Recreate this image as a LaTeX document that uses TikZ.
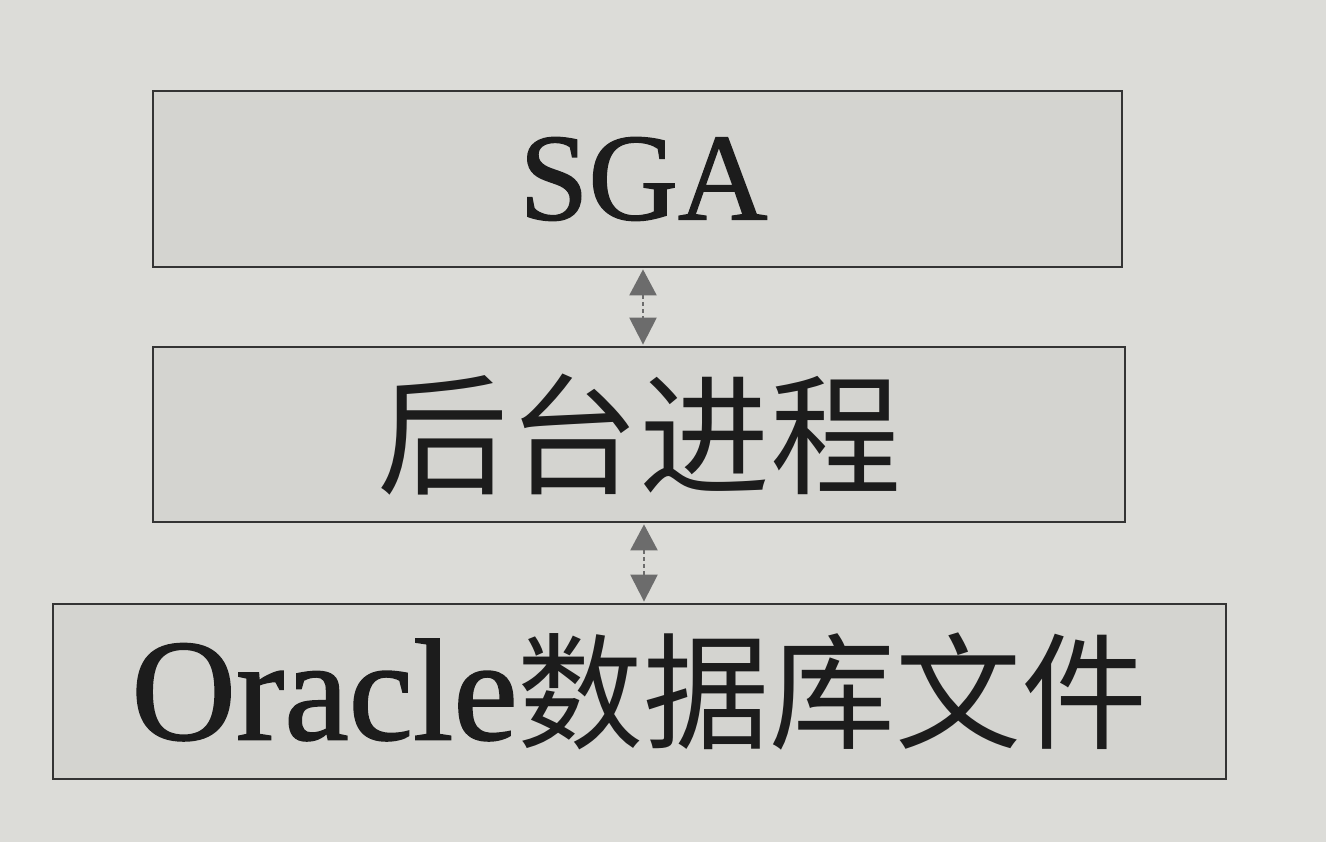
\documentclass[tikz,border=0pt]{standalone}
\usepackage{fontspec}
\setmainfont{Liberation Serif}
\newfontfamily\heavyserif[FakeBold=1.2]{Liberation Serif}
\newfontfamily\cjk{Noto Sans CJK SC}
\usetikzlibrary{arrows.meta}
\definecolor{paper}{HTML}{DCDCD8}
\definecolor{boxfill}{HTML}{D4D4D0}
\definecolor{edge}{HTML}{343434}
\definecolor{ink}{HTML}{1C1C1C}
\definecolor{arrowgray}{HTML}{6C6C6C}
\tikzset{
  layerbox/.style={draw=edge, line width=2.8pt, fill=boxfill, inner sep=0pt,
    text=ink, anchor=center},
  biarrow/.style={draw=arrowgray, line width=2.4pt, dash pattern=on 4pt off 3pt,
    {Triangle[width=27pt,length=26pt,fill=arrowgray]}-{Triangle[width=27pt,length=27pt,fill=arrowgray]},
    shorten <=1pt, shorten >=1pt}
}
\begin{document}
\begin{tikzpicture}[x=1pt,y=1pt]
  \fill[paper] (0,0) rectangle (1326,842);
  \useasboundingbox (0,0) rectangle (1326,842);
  \node[layerbox, minimum width=969pt, minimum height=176pt] (sga) at (637.5,663)
    {\heavyserif\fontsize{124}{130}\selectfont\hspace*{12pt}SGA};
  \node[layerbox, minimum width=972pt, minimum height=175pt] (bg) at (639,407.5)
    {\cjk\fontsize{131}{136}\selectfont 后台进程};
  \node[layerbox, minimum width=1173pt, minimum height=175pt] (db) at (639.5,150.5)
    {\heavyserif\fontsize{145}{150}\selectfont Oracle{\cjk\fontsize{126}{136}\selectfont 数据库文件}};
  \draw[biarrow] ([xshift=5.5pt]sga.south) -- ([xshift=5.5pt]sga.south |- bg.north);
  \draw[biarrow] ([xshift=5pt]bg.south) -- ([xshift=5pt]bg.south |- db.north);
\end{tikzpicture}
\end{document}
